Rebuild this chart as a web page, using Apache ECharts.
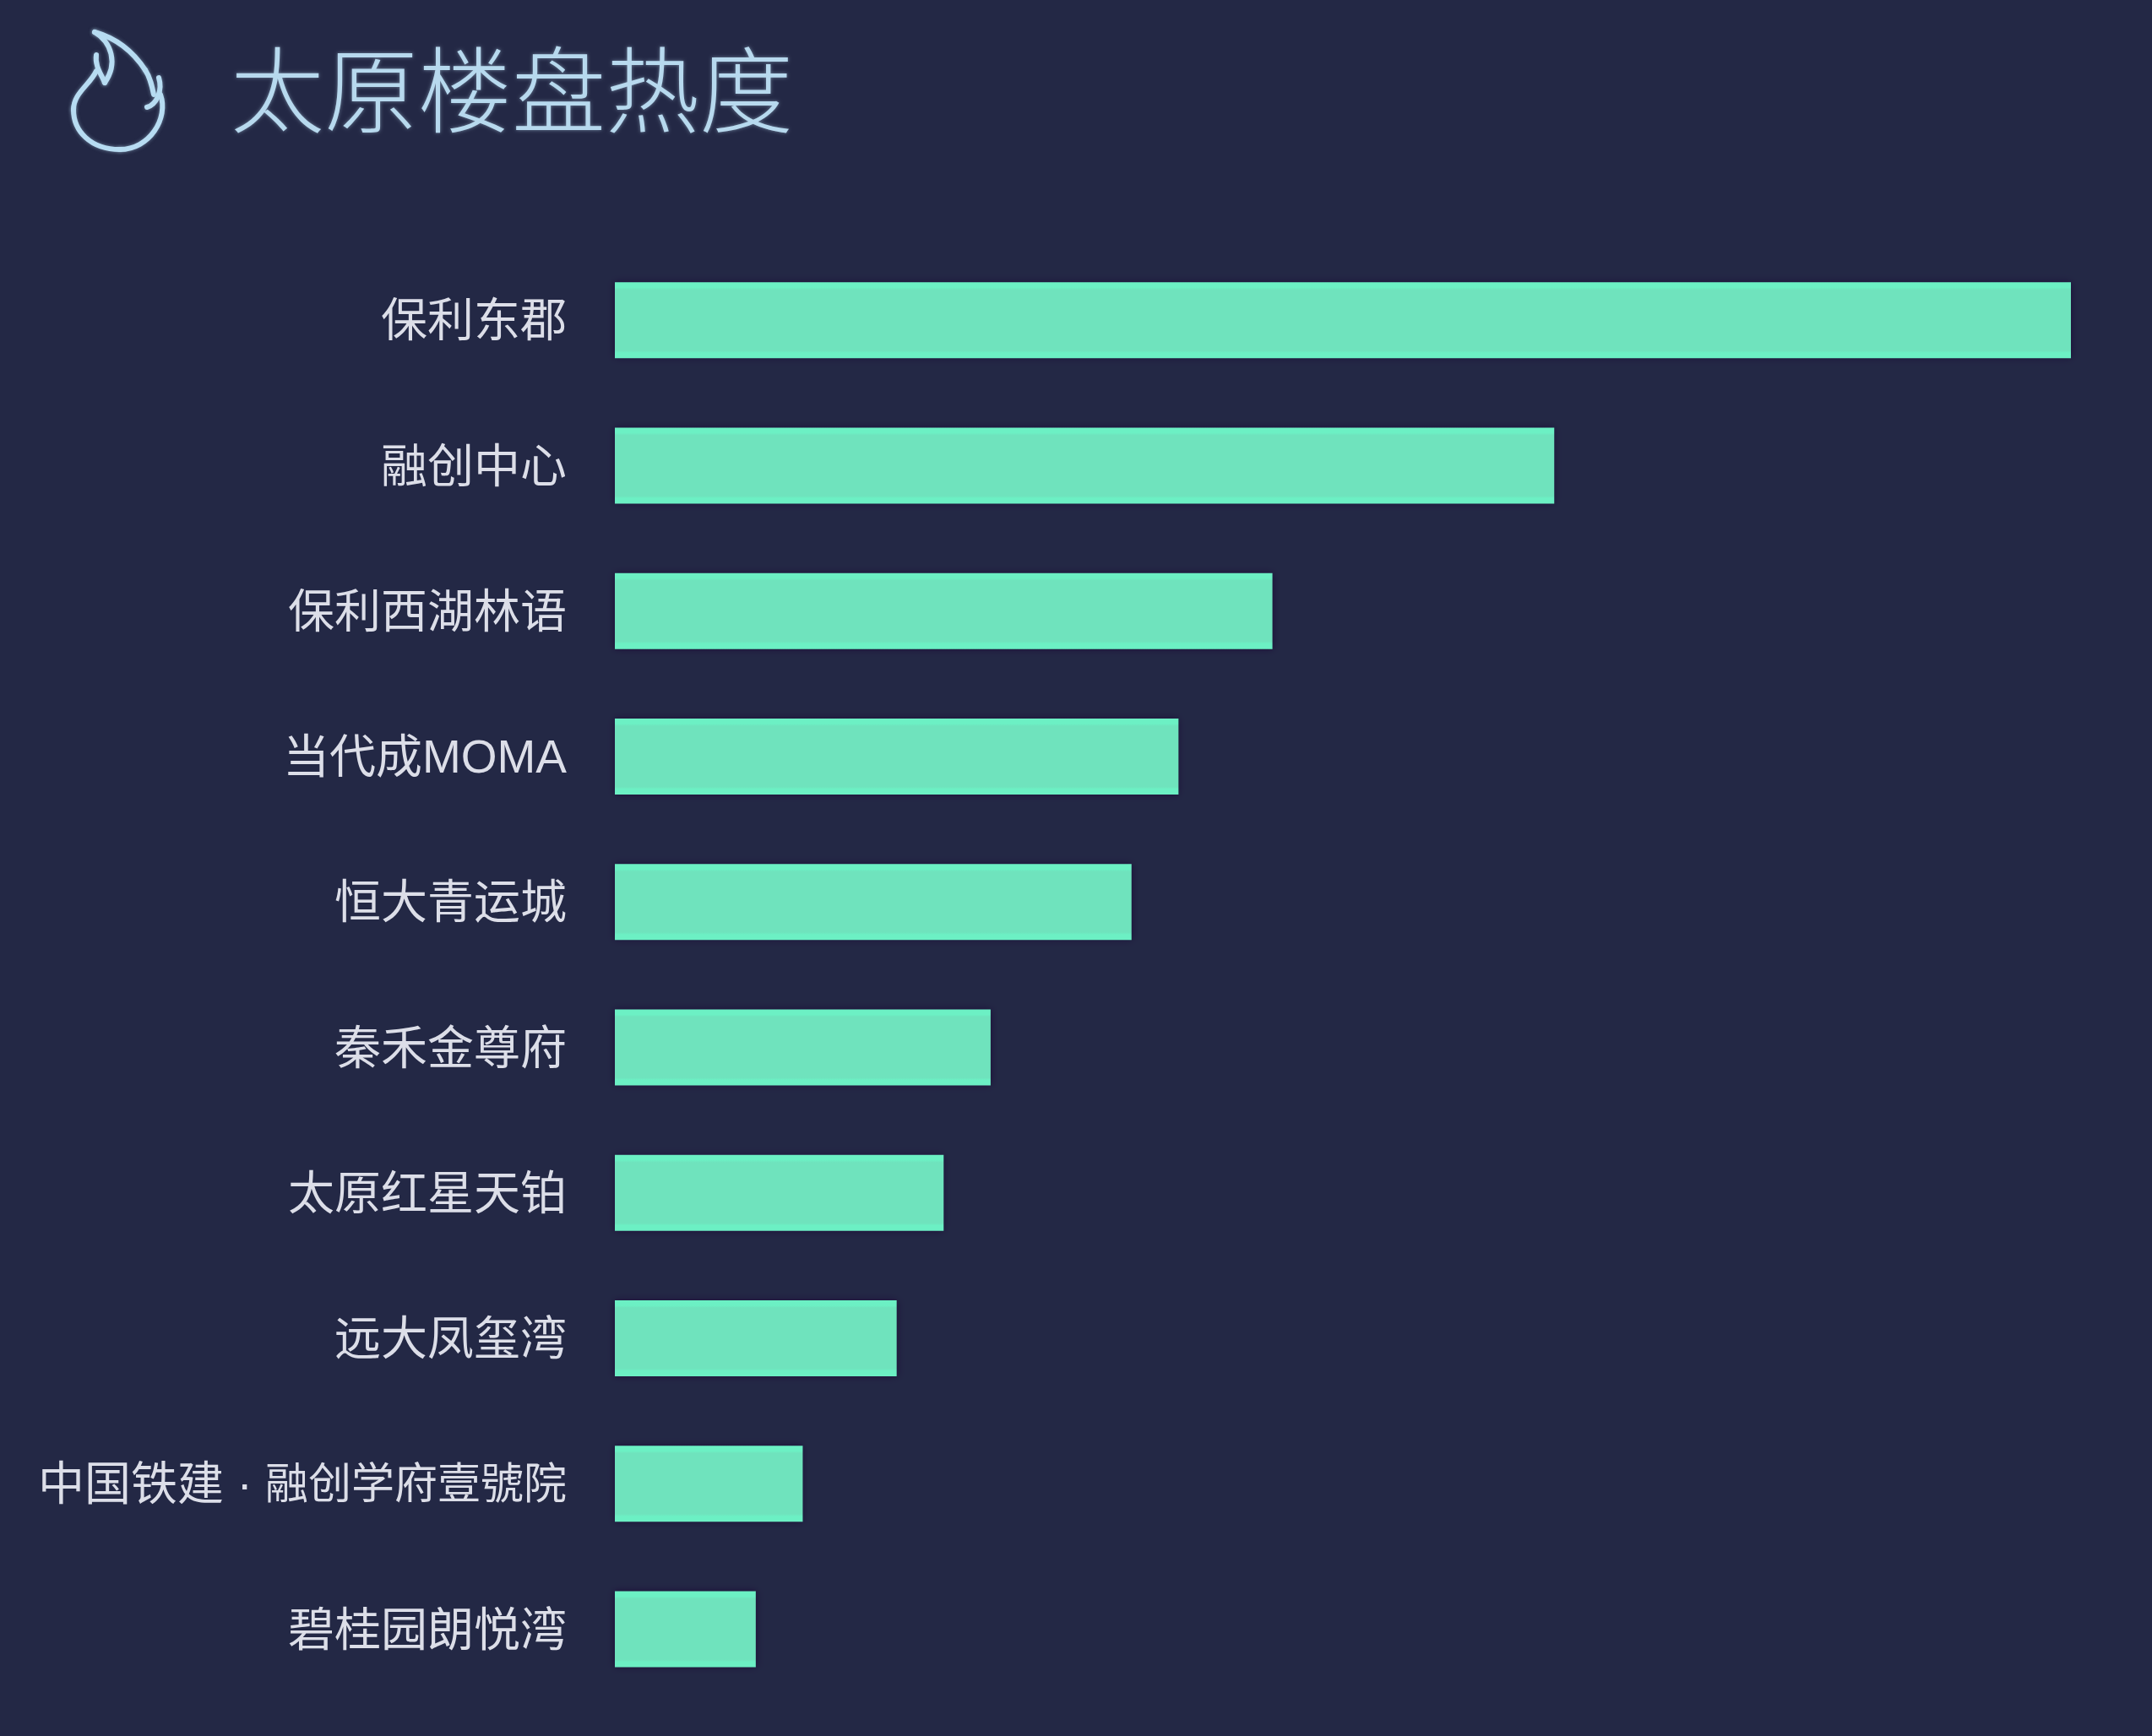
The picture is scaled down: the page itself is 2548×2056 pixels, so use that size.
<!DOCTYPE html>
<html><head><meta charset="utf-8">
<style>html,body{margin:0;padding:0;background:#232845}#c{width:2548px;height:2056px}</style>
<script src="https://cdn.jsdelivr.net/npm/echarts@6/dist/echarts.min.js"></script>
</head><body><div id="c"></div>
<script>
const titleText = '太原楼盘热度';
const categories = ['保利东郡','融创中心','保利西湖林语','当代成MOMA','恒大青运城','秦禾金尊府','太原红星天铂','远大凤玺湾','中国铁建 · 融创学府壹號院','碧桂园朗悦湾'];
const values = [31,20,14,12,11,8,7,6,4,3];
const TITLE_FONT = '"Noto Sans CJK SC","Noto Sans",sans-serif';
const LABEL_FONT = '"Liberation Sans","Noto Sans CJK SC",sans-serif';
const flameCurves = [
  [112,38,137,45,157,60,172,83],
  [172,83,178,92,180,102,182,112],
  [174,127,185,124,193,108,188,92],
  [190,112,200,140,177,177,142,177],
  [142,177,107,177,87,155,87,130],
  [87,130,87,110,107,100,114,84],
  [114,65,112,78,120,88,124,98],
  [112,38,132,50,140,75,124,98]
];
function labelText(v){
  const i = v.indexOf('·');
  return i < 0 ? v : '{a|' + v.slice(0, i + 2) + '}{b|' + v.slice(i + 2) + '}';
}
const chart = echarts.init(document.getElementById('c'), null, {renderer:'canvas'});
chart.setOption({
  backgroundColor:'#232845',
  animation:false,
  title:{text:titleText,left:268,top:37,textStyle:{color:'#b7d9ee',fontSize:111,fontWeight:300,fontFamily:TITLE_FONT,lineHeight:130,textShadowColor:'rgba(183,217,238,0.5)',textShadowBlur:4}},
  grid:{left:728,right:96,top:293,bottom:40.5,containLabel:false},
  xAxis:{type:'value',min:0,max:31,show:false},
  yAxis:{type:'category',inverse:true,data:categories,axisLine:{show:false},axisTick:{show:false},splitLine:{show:false},
    axisLabel:{color:'#dcdee8',fontSize:55,margin:57,padding:[8,0,0,0],fontFamily:LABEL_FONT,interval:0,formatter:labelText,
      rich:{a:{fontSize:55,fontFamily:LABEL_FONT,color:'#dcdee8'},b:{fontSize:51,fontFamily:LABEL_FONT,color:'#dcdee8'}}}},
  series:[{type:'bar',data:values,barWidth:90,silent:true,
    itemStyle:{shadowColor:'#1c0c38',shadowBlur:9,
      color:{type:'linear',x:0,y:0,x2:0,y2:1,colorStops:[
        {offset:0,color:'#6cf0c4'},{offset:0.07,color:'#6cf0c4'},{offset:0.1,color:'#6fe3bd'},
        {offset:0.9,color:'#6fe3bd'},{offset:0.93,color:'#6cf0c4'},{offset:1,color:'#6cf0c4'}]}}}],
  graphic:flameCurves.map(c=>({type:'bezierCurve',silent:true,
    shape:{x1:c[0],y1:c[1],cpx1:c[2],cpy1:c[3],cpx2:c[4],cpy2:c[5],x2:c[6],y2:c[7]},
    style:{fill:'none',stroke:'#b7dcf2',lineWidth:6,lineCap:'round',shadowColor:'rgba(183,220,242,0.5)',shadowBlur:4}}))
});
</script></body></html>
